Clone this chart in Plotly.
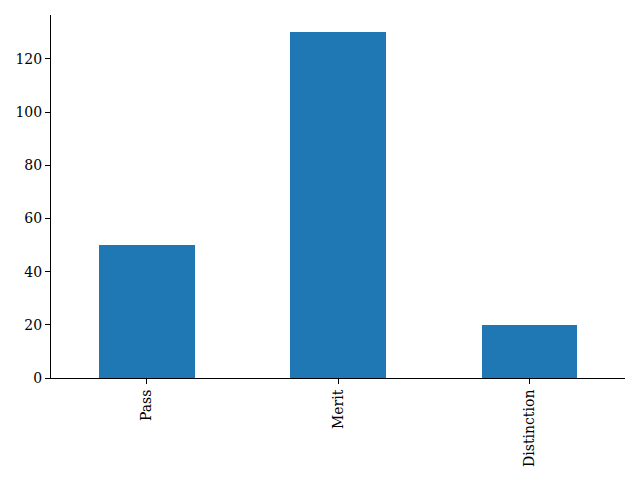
import plotly.graph_objects as go

categories = ["Pass", "Merit", "Distinction"]
counts = [50, 130, 20]

fig = go.Figure()
fig.add_trace(go.Bar(
    x=list(range(len(categories))),
    y=counts,
    width=0.5,
    marker=dict(color="#1f77b4", line=dict(width=0)),
))

# the page body adds an 8px offset, so margins are shifted to compensate
fig.update_layout(
    width=640,
    height=480,
    margin=dict(l=43, r=23, t=7, b=110),
    plot_bgcolor="white",
    paper_bgcolor="white",
    font=dict(family="DejaVu Serif", size=14, color="black"),
    showlegend=False,
    bargap=0,
)
fig.update_xaxes(
    range=[-0.5, len(categories) - 0.5],
    tickmode="array",
    tickvals=list(range(len(categories))),
    ticktext=categories,
    tickangle=-90,
    showline=True, linecolor="black", linewidth=1,
    ticks="outside", ticklen=5, tickcolor="black",
    showgrid=False, zeroline=False,
)
fig.update_yaxes(
    range=[0, max(counts) * 1.05],
    tickvals=[0, 20, 40, 60, 80, 100, 120],
    showline=True, linecolor="black", linewidth=1,
    ticks="outside", ticklen=5, tickcolor="black",
    showgrid=False, zeroline=False,
)

fig.write_html("out.html")
